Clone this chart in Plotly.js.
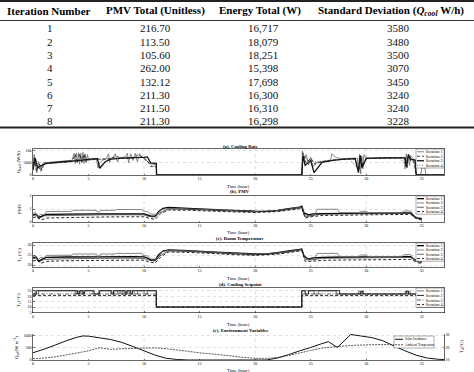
<!DOCTYPE html>
<html><head><meta charset="utf-8">
<script src="https://cdn.plot.ly/plotly-3.0.1.min.js"></script>
<style>html,body{margin:0;padding:0;background:#fff}#chart{width:474px;height:372px}</style>
</head><body><div id="chart"></div>
<script>
// ---------- Table data ----------
const iterations = [1, 2, 3, 4, 5, 6, 7, 8];
const pmvTotal = [216.70, 113.50, 105.60, 262.00, 132.12, 211.30, 211.50, 211.30];
const energyTotal = [16717, 18079, 18251, 15398, 17698, 16300, 16310, 16298];
const stdDev = [3580, 3480, 3500, 3070, 3450, 3240, 3240, 3228];
const tableHeaders = ['Iteration Number', 'PMV Total (Unitless)', 'Energy Total (W)', 'Standard Deviation (<i>Q</i><sub><i>cool</i></sub> W/h)'];

// ---------- Chart labels ----------
const panelTitles = ['(a). Cooling Rate', '(b). PMV', '(c). Room Temperature', '(d). Cooling Setpoint', '(e). Environment Variables'];
const seriesNames = ['Iteration 1', 'Iteration 2', 'Iteration 3', 'Iteration 4'];
const envNames = ['Solar Irradiance', 'Ambient Temperature'];
const xTicks = [0, 5, 10, 15, 20, 25, 30, 35];
const xLabel = 'Time (hour)';

// ---------- (a) Cooling rate ----------
const coolT1 = [0,0.1,0.2,0.35,0.5,0.7,0.9,1.1,1.5,2,2.5,3,3.5,3.7,3.8,3.9,4.0,4.1,4.2,4.3,4.4,4.5,4.6,4.7,4.8,4.9,5.0,5.3,5.7,5.85,6.0,6.3,6.6,6.8,6.9,7.0,7.2,7.4,7.6,7.8,8.0,8.3,8.5,8.6,8.8,9.0,9.2,9.4,9.6,9.8,10.0,10.2,10.5,10.8,11.0,11.1,11.15,24.2,24.25,24.4,24.6,24.8,25.0,25.2,25.5,26,26.5,26.8,26.9,27.3,27.8,28.5,29.0,29.2,29.3,29.4,29.5,29.6,29.7,29.8,30.0,30.5,31,32,33,33.4,33.5,33.6,33.7,33.8,33.9,34.0,34.2,34.4,34.5,34.9,35.0,35.3,35.35,37];
const coolQ1 = [3000,8500,6000,1000,5500,1500,5000,5200,5300,5500,5700,5900,6000,9000,4800,9200,5000,9300,4500,9000,5200,9400,4800,8800,5500,8500,6500,6800,6900,3000,5000,6200,6800,8800,5200,7000,7200,8800,5500,7300,7300,7400,9000,5000,8800,6000,9000,5500,8800,7500,7000,6000,4800,4500,4400,4300,0,0,10000,6000,8500,4200,7500,3500,5200,5600,6000,6200,8800,7200,6800,6900,7000,7000,1500,8500,500,8000,2500,8500,7100,7100,7200,7200,7300,7300,2500,8800,3000,8500,4000,8000,7000,6000,0,0,2900,2900,0,0];
const coolT2 = [0,0.15,0.3,0.6,0.8,1.0,1.5,2.5,3.5,3.8,4.0,4.2,4.4,4.6,4.8,5.0,6.0,7.0,7.5,8.0,9.0,9.5,10.0,10.4,10.6,11.0,11.1,11.12,24.2,24.3,24.6,25.0,25.4,26,27,28,29,29.35,29.5,29.7,30,31,32,33,33.5,33.65,33.8,34.0,34.3,34.5,37];
const coolQ2 = [4000,7500,1500,4500,2000,4800,5000,5200,5600,8500,5000,8800,5500,8600,5200,6300,6600,6700,7800,6900,7000,8500,6800,5200,3500,3500,3400,0,0,9200,5000,7000,4500,5500,6200,6500,6700,2000,7800,3500,6800,6900,7000,7000,7000,3200,8000,6000,5500,0,0];
const coolT3 = [0,0.2,0.4,0.8,1.2,2,3,4,5,5.8,6.0,6.5,7,8,9,10,10.3,10.6,11.1,11.12,24.2,24.3,24.5,25,25.3,26,27,28,29,29.3,29.45,29.6,30,31,32,33,33.5,33.6,33.8,34,34.4,34.5,37];
const coolQ3 = [2000,7000,3000,4000,4800,5200,5600,6000,6500,6800,2800,5500,6600,7000,7200,7300,7500,5000,4800,0,0,8000,4000,6000,1000,5200,6100,6600,6800,1000,8200,3000,6900,7000,7100,7100,7100,3500,8500,6500,6200,0,0];
const coolT4 = [0,0.3,0.6,1,2,3,4,4.5,5,6,7,8,9,9.9,10.3,10.7,11.1,11.12,24.2,24.3,24.8,25.5,26.5,27.5,28.5,29.3,29.5,30,31,32,33,33.6,33.8,34.2,34.5,37];
const coolQ4 = [3500,6000,2500,4600,5000,5300,5800,8000,6200,6500,6700,6900,7000,7600,6000,3800,3700,0,0,8500,5800,5400,5900,6400,6600,2500,7500,6800,6900,7000,7100,4000,7800,6500,0,0];

// ---------- (b) PMV ----------
const pmvT1 = [0,0.3,0.5,0.8,1.2,3,6,9,10,10.3,10.6,11,11.3,11.7,12.2,14,16,18,20,21,22,23,24,24.2,24.4,24.8,25.2,26,28,30,32,34,34.3,34.6,35];
const pmvV1 = [0.55,0.6,0.35,0.45,0.58,0.6,0.62,0.63,0.62,0.55,0.45,0.45,0.8,1.05,1.12,1.05,0.97,0.9,0.83,0.82,0.9,1.02,1.15,1.22,0.7,0.55,0.62,0.65,0.67,0.68,0.7,0.7,0.45,0.3,0.25];
const pmvT2 = [0,0.2,0.4,0.7,1.0,1.2,3.5,3.6,5.7,5.8,6.0,6.1,7.4,7.5,9.8,9.9,10.3,10.6,11.2,11.6,12.2,14,16,18,20,22,24,24.2,24.4,24.8,25.3,25.6,27.4,27.6,29.3,29.5,30,30.2,33.2,33.4,34,34.2,34.5,35];
const pmvV2 = [0.65,0.75,0.4,0.6,0.55,0.8,0.82,0.9,0.9,0.78,0.78,0.9,0.9,0.96,0.96,0.85,0.8,0.6,0.6,0.95,1.05,1.0,0.94,0.87,0.8,0.88,1.12,1.15,0.6,0.45,0.5,0.98,0.98,0.72,0.72,0.82,0.82,0.72,0.72,0.85,0.85,0.6,0.35,0.3];
const pmvT3 = [0,0.3,0.5,1,2,4,6,8,10,10.4,11,11.4,12.2,14,16,18,20,22,24,24.2,24.5,25,26,28,30,32,34,34.4,35];
const pmvV3 = [0.5,0.55,0.25,0.48,0.5,0.52,0.55,0.56,0.55,0.42,0.38,0.7,1.0,0.97,0.9,0.84,0.78,0.85,1.08,1.1,0.4,0.5,0.6,0.62,0.63,0.65,0.66,0.35,0.2];
const pmvT4 = [0,0.4,0.7,1.2,2,4,6,8,10,10.4,11,11.5,12.2,14,16,18,20,22,24,24.2,24.5,25,26,28,30,32,34,34.5,35];
const pmvV4 = [0.35,0.4,0.15,0.3,0.32,0.35,0.38,0.4,0.4,0.3,0.2,0.65,0.92,0.9,0.84,0.78,0.73,0.8,1.02,1.05,0.3,0.4,0.5,0.52,0.55,0.57,0.58,0.25,0.15];

// ---------- (c) Room temperature ----------
const tempT1 = [0,0.3,0.5,0.8,1.2,3,6,9,10,10.3,10.6,11,11.3,11.7,12.2,14,16,18,20,21,22,23,24,24.2,24.4,24.8,25.2,26,28,30,32,34,34.3,34.6,35];
const tempV1 = [23.5,24,22,22.8,23.8,24,24.1,24.2,24.1,23.5,22.5,22.5,25,27,27.6,27.2,26.6,26.1,25.6,25.5,26.2,27,27.8,28,24.5,23,23.5,23.8,24,24.1,24.2,24.2,23,22,21.5];
const tempT2 = [0,0.2,0.4,0.7,1.0,1.2,3.5,3.6,5.7,5.8,6.0,6.1,7.4,7.5,9.8,9.9,10.3,10.6,11.2,11.6,12.2,14,16,18,20,22,24,24.2,24.4,24.8,25.3,25.6,27.4,27.6,29.3,29.5,30,30.2,33.2,33.4,34,34.2,34.5,35];
const tempV2 = [24,24.8,22.5,23.8,23.5,24.8,24.9,25.5,25.5,24.5,24.5,25.5,25.5,25.8,25.8,24.8,24.5,23,23,26.5,27.3,27,26.4,25.8,25.3,26,27.6,27.8,24,22.8,23.2,25.8,25.8,24.2,24.2,25,25,24.2,24.2,25.2,25.2,23.5,22,21.5];
const tempT3 = [0,0.3,0.5,1,2,4,6,8,10,10.4,11,11.4,12.2,14,16,18,20,22,24,24.2,24.5,25,26,28,30,32,34,34.4,35];
const tempV3 = [23,23.5,21.5,22.8,23,23.2,23.3,23.4,23.3,22.5,22,24.5,27,26.8,26.2,25.6,25.1,25.8,27.3,27.5,22.8,22.5,23.3,23.5,23.6,23.7,23.8,22.2,21];
const tempT4 = [0,0.4,0.7,1.2,2,4,6,8,10,10.4,11,11.5,12.2,14,16,18,20,22,24,24.2,24.5,25,26,28,30,32,34,34.5,35];
const tempV4 = [22,22.5,20.8,21.8,22,22.2,22.3,22.4,22.4,21.6,21,24,26.5,26.3,25.8,25.2,24.8,25.4,27,27.2,21.8,21.8,22.3,22.5,22.6,22.7,22.8,21.5,20.5];

// ---------- (d) Cooling setpoint (step changes) ----------
const spT1 = [0,0.2,0.5,3.8,3.95,4.1,4.25,4.4,4.55,5.4,5.9,7.0,7.3,7.6,7.75,7.9,8.05,8.2,8.4,8.55,8.7,9.1,9.4,10.0,10.3,11.1,24.2,25.3,25.7,27.3,29.3,29.45,29.6,29.75,33.5,33.65,33.8,33.95,34.6,37];
const spV1 = [25,22,25,22,25,22,25,22,25,22,25,22,25,22,25,22,25,22,25,22,25,22,25,22,25,10,25,22,25,22,24.5,22,24.5,22,24.5,22,24.5,22,10,10];
const spT2 = [0,0.3,4.0,4.2,4.5,4.65,5.5,6.0,7.1,7.25,8.3,8.45,8.8,8.95,11.1,24.2,24.5,24.8,27.6,29.5,29.7,33.6,33.8,34.6,37];
const spV2 = [22,25,22,25,22,25,22,25,22,25,22,25,22,25,10,25,22,25,22,24.5,22,24.5,22,10,10];
const spT3 = [0,11.1,24.2,34.6,37];
const spV3 = [22,10,22,10,10];
const spT4 = [0,11.1,24.2,34.6,37];
const spV4 = [20.5,10,20.5,10,10];

// ---------- (e) Environment ----------
const solarT = [0,1,2,3,4,4.5,5,6,7,8,9,10,11,12,13,14,21,22,23,24,25,26,26.6,27.4,28.6,29.5,30.5,31.5,32.5,33.5,34.5,35.5,36.5,37];
const solarV = [300,450,620,800,950,1000,990,920,850,730,560,380,200,70,20,0,0,80,220,380,520,680,760,520,1060,1000,930,800,580,380,200,80,30,20];
const ambT = [0,1,2,3,4,5,6,7,8,9,10,11,12,13,14,15,16,17,18,19,20,21,22,23,24,25,26,27,28,29,30,31,32,33];
const ambV = [17,17.5,18.5,20,21.5,23.2,25.5,24.3,24.8,25,25.3,25.5,24.8,23.8,22.7,21.6,20.8,20,19,18,17.3,17.2,18,19.5,21.5,23.5,25.3,26.2,27,27.5,27.8,28,28,28.3];

// ---------- Layout helpers ----------
const W = 474, H = 372;
const px = x => x / W;
const py = y => 1 - y / H;
const FONT = '"Liberation Serif", "Times New Roman", serif';

const styleA = [
  {color:'#6a6a6a', width:0.8, dash:'solid'},
  {color:'#111', width:0.8, dash:'3px,2px'},
  {color:'#111', width:1.3, dash:'solid'},
  {color:'#333', width:0.8, dash:'1px,1.5px'}];
const styleBC = [
  {color:'#000', width:1.3, dash:'solid'},
  {color:'#777', width:0.9, dash:'solid'},
  {color:'#222', width:0.7, dash:'solid'},
  {color:'#111', width:0.9, dash:'3px,2px'}];
const styleD = [
  {color:'#888', width:1.1, dash:'solid'},
  {color:'#111', width:0.9, dash:'solid'},
  {color:'#333', width:0.8, dash:'4px,1.5px,1px,1.5px'},
  {color:'#111', width:0.9, dash:'3px,2px'}];
const styleE = [
  {color:'#111', width:1.0, dash:'solid'},
  {color:'#444', width:0.9, dash:'2px,1px'}];

const panels = [
  {top:149, bottom:175, range:[0,10800], tickvals:[0,5000,10000], ylabel:'Q<sub>cool</sub> (W/h)', titleY:146, timeY:186, ylabX:19},
  {top:196, bottom:222, range:[0,2], tickvals:[0,1,2], ylabel:'PMV', titleY:191, timeY:232, ylabX:20},
  {top:243, bottom:267, range:[19,31], tickvals:[20,25,30], ylabel:'T<sub>z</sub> (°C)', titleY:238, timeY:278, ylabX:20},
  {top:288, bottom:312.5, range:[5,27.5], tickvals:[5,10,15,20,25], ylabel:'T<sub>s</sub> (°C)', titleY:284, timeY:324, ylabX:19},
  {top:334, bottom:360, range:[0,1080], tickvals:[0,500,1000], ylabel:'Q<sub>sol</sub>(W m<sup>-2</sup>)', titleY:330, timeY:370, ylabX:16}
];

const traces = [];
function addSeries(xs, ys, k, yk, style, shape) {
  traces.push({type:'scatter', mode:'lines', x:xs, y:ys,
    xaxis:'x' + (k === 1 ? '' : k), yaxis:'y' + (yk === 1 ? '' : yk),
    line:{color:style.color, width:style.width, dash:style.dash, shape:shape || 'linear', simplify:false},
    hoverinfo:'skip', showlegend:false});
}
[[coolT1,coolQ1],[coolT2,coolQ2],[coolT3,coolQ3],[coolT4,coolQ4]].forEach((s,i)=>addSeries(s[0], s[1], 1, 1, styleA[i]));
[[pmvT1,pmvV1],[pmvT2,pmvV2],[pmvT3,pmvV3],[pmvT4,pmvV4]].forEach((s,i)=>addSeries(s[0], s[1], 2, 2, styleBC[i]));
[[tempT1,tempV1],[tempT2,tempV2],[tempT3,tempV3],[tempT4,tempV4]].forEach((s,i)=>addSeries(s[0], s[1], 3, 3, styleBC[i]));
[[spT1,spV1],[spT2,spV2],[spT3,spV3],[spT4,spV4]].forEach((s,i)=>addSeries(s[0], s[1], 4, 4, styleD[i], 'hv'));
addSeries(solarT, solarV, 5, 5, styleE[0]);
addSeries(ambT, ambV, 5, 6, styleE[1]);

const layout = {
  width: W, height: H, autosize: false,
  margin: {l:0, r:0, t:0, b:0, pad:0},
  paper_bgcolor: '#fff', plot_bgcolor: '#fff',
  showlegend: false,
  font: {family: FONT, color: '#000'},
  shapes: [], annotations: []
};
const shapes = layout.shapes, annotations = layout.annotations;

const tickFont = {family: FONT, size: 4, color: '#000'};
panels.forEach((p, i) => {
  const k = i === 0 ? '' : String(i + 1);
  layout['xaxis' + k] = {domain:[px(33), px(444)], anchor:'y' + k, range:[0, 37],
    tickvals: xTicks, ticktext: xTicks.map(String), showgrid:false, zeroline:false,
    showline:true, linecolor:'#000', linewidth:0.6, mirror: i < 4,
    ticks:'inside', ticklen:1.5, tickwidth:0.5, tickcolor:'#000', tickfont: tickFont, fixedrange:true};
  layout['yaxis' + k] = {domain:[py(p.bottom), py(p.top)], anchor:'x' + k, range:p.range,
    tickvals: p.tickvals, showgrid:true, gridcolor:'#c4c4c4', gridwidth:0.5, griddash:'dot', zeroline:false,
    showline:true, linecolor:'#000', linewidth:0.6, mirror: i < 4,
    ticks:'inside', ticklen:1.5, tickwidth:0.5, tickcolor:'#000', tickfont: tickFont, fixedrange:true};
  [10, 20, 30].forEach(v => shapes.push({type:'line', xref:'x' + k, yref:'y' + k + ' domain', x0:v, x1:v, y0:0, y1:1,
    line:{color:'#b8b8b8', width:0.5, dash:'dot'}, layer:'below'}));
  annotations.push({xref:'paper', yref:'paper', x:px(240), y:py(p.titleY), xanchor:'center', yanchor:'middle',
    text:'<b>' + panelTitles[i] + '</b>', showarrow:false, font:{family:FONT, size:4.8, color:'#000'}});
  annotations.push({xref:'paper', yref:'paper', x:px(239), y:py(p.timeY), xanchor:'center', yanchor:'middle',
    text:xLabel, showarrow:false, font:{family:FONT, size:4.6, color:'#000'}});
  annotations.push({xref:'paper', yref:'paper', x:px(p.ylabX), y:py((p.top + p.bottom) / 2), xanchor:'center', yanchor:'middle',
    text:p.ylabel, textangle:-90, showarrow:false, font:{family:FONT, size:4.8, color:'#000'}});
});
layout.yaxis6 = {overlaying:'y5', anchor:'x5', side:'right', range:[16, 36.3], tickvals:[16, 26, 36],
  showgrid:false, zeroline:false, showline:true, linecolor:'#000', linewidth:0.6,
  ticks:'inside', ticklen:1.5, tickwidth:0.5, tickcolor:'#000', tickfont: tickFont, fixedrange:true};
annotations.push({xref:'paper', yref:'paper', x:px(462), y:py(347), xanchor:'center', yanchor:'middle',
  text:'T<sub>a</sub>(°C)', textangle:-90, showarrow:false, font:{family:FONT, size:4.8, color:'#000'}});

function addLegend(top, styles, names, x0, x1, rowH, fs, sample) {
  shapes.push({type:'rect', xref:'paper', yref:'paper', x0:px(x0), x1:px(x1), y0:py(top), y1:py(top + rowH * names.length + 1),
    line:{color:'#555', width:0.5}, fillcolor:'#fff', layer:'above'});
  names.forEach((n, i) => {
    const yy = top + 0.5 + rowH * (i + 0.5);
    shapes.push({type:'line', xref:'paper', yref:'paper', x0:px(x0 + 1), x1:px(x0 + 1 + sample), y0:py(yy), y1:py(yy),
      line:{color:styles[i].color, width:styles[i].width, dash:styles[i].dash}, layer:'above'});
    annotations.push({xref:'paper', yref:'paper', x:px(x0 + 2 + sample), y:py(yy), xanchor:'left', yanchor:'middle',
      text:n, showarrow:false, borderpad:0, font:{family:FONT, size:fs, color:'#000'}});
  });
}
addLegend(149, styleA, seriesNames, 416, 444, 4.5, 4, 7);
addLegend(196, styleBC, seriesNames, 416, 444, 4.3, 4, 7);
addLegend(243, styleBC, seriesNames, 416, 444, 4.3, 4, 7);
addLegend(288, styleD, seriesNames, 416, 444, 4.6, 4, 7);
addLegend(336, styleE, envNames, 394, 434, 5.5, 3.4, 8);

// ---------- Table ----------
const headerX = [49, 155, 260, 391];
const cellX = [50, 155, 263, 398];
const rowY0 = 28.3, rowStep = 13.3;
tableHeaders.forEach((h, j) => annotations.push({xref:'paper', yref:'paper', x:px(headerX[j]), y:py(11), xanchor:'center', yanchor:'middle',
  text:'<b>' + h + '</b>', showarrow:false, borderpad:0, font:{family:FONT, size:11, color:'#000'}}));
iterations.forEach((it, i) => {
  const cells = [String(it), pmvTotal[i].toFixed(2), energyTotal[i].toLocaleString('en-US'), String(stdDev[i])];
  cells.forEach((c, j) => annotations.push({xref:'paper', yref:'paper', x:px(cellX[j]), y:py(rowY0 + rowStep * i), xanchor:'center', yanchor:'middle',
    text:c, showarrow:false, borderpad:0, font:{family:FONT, size:11, color:'#111'}}));
});
shapes.push({type:'line', xref:'paper', yref:'paper', x0:0, x1:1, y0:py(1), y1:py(1), line:{color:'#222', width:2}});
shapes.push({type:'line', xref:'paper', yref:'paper', x0:0, x1:1, y0:py(20.5), y1:py(20.5), line:{color:'#333', width:1}});
shapes.push({type:'line', xref:'paper', yref:'paper', x0:0, x1:1, y0:py(127.5), y1:py(127.5), line:{color:'#222', width:2}});

Plotly.newPlot('chart', traces, layout, {staticPlot:true, displayModeBar:false});
</script>
</body></html>
